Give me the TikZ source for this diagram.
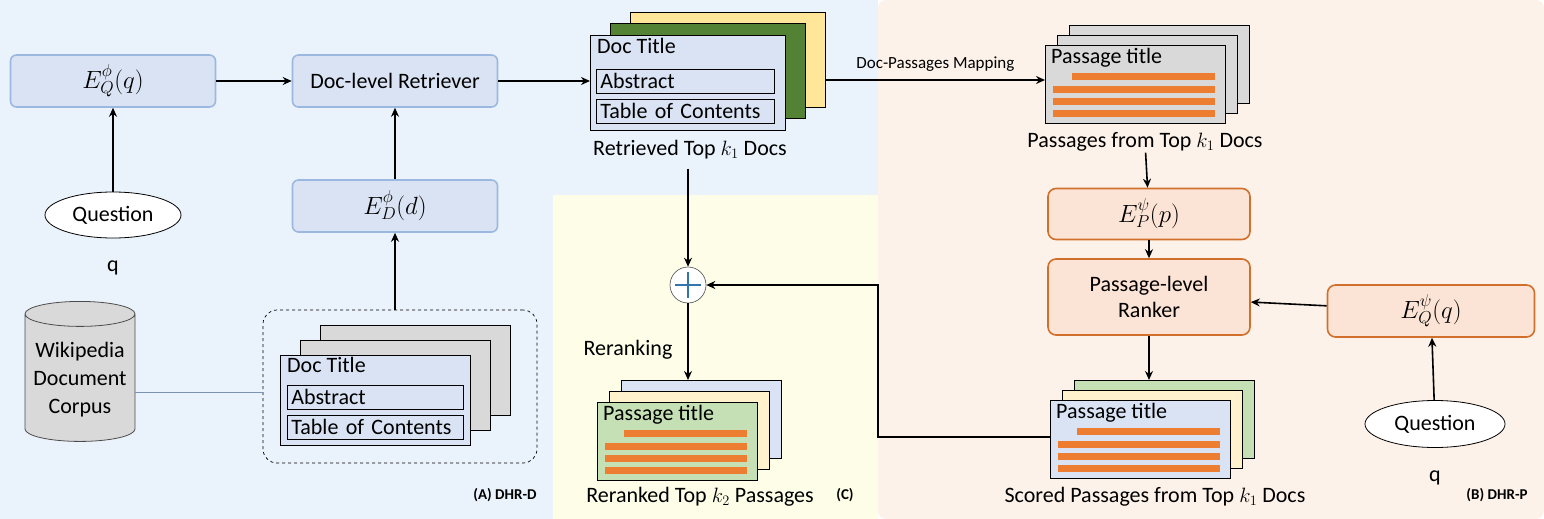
\documentclass[tikz,border=0pt]{standalone}
\usepackage{fontspec}
\setmainfont{Carlito}
\usetikzlibrary{shapes.geometric,arrows.meta}
\definecolor{bblue}{HTML}{EAF3FC}
\definecolor{byel}{HTML}{FDFDE8}
\definecolor{bora}{HTML}{FDF2EA}
\definecolor{boxb}{HTML}{DAE3F3}
\definecolor{edgeb}{HTML}{9DB8E0}
\definecolor{boxo}{HTML}{FBE3D5}
\definecolor{edgeo}{HTML}{D0702C}
\definecolor{bar}{HTML}{ED7D31}
\definecolor{pgray}{HTML}{D9D9D9}
\definecolor{pgreen}{HTML}{C5E0B4}
\definecolor{pyel}{HTML}{FFF2CC}
\definecolor{pblue}{HTML}{DAE3F3}
\definecolor{dgreen}{HTML}{548235}
\definecolor{lyel}{HTML}{FFE699}
\newcommand\fs{\fontsize{22}{26}\selectfont}
\newcommand\fm{\fontsize{25}{30}\selectfont}
\newcommand\pg[6]{\node[page,fill=#5,minimum width=#3,minimum height=#4,anchor=north west] (#6) at (#1,#2) {};}
\newcommand\bars[4]{% x y w name
  \fill[bar] (#1+27,#2+28) rectangle (#1+#3-10,#2+35);
  \fill[bar] (#1+8,#2+41) rectangle (#1+#3-10,#2+48);
  \fill[bar] (#1+8,#2+53) rectangle (#1+#3-10,#2+60);
  \fill[bar] (#1+8,#2+65) rectangle (#1+#3-10,#2+72);
  \node[anchor=north west,inner sep=0pt,font=\fs] (#4) at (#1+6,#2+3) {Passage title};}
\tikzset{
  page/.style={draw=black,line width=0.8pt,inner sep=0pt},
  bbox/.style={draw=edgeb,fill=boxb,line width=1.6pt,rounded corners=6pt,minimum width=205pt,minimum height=52pt,font=\fs},
  obox/.style={draw=edgeo,fill=boxo,line width=1.6pt,rounded corners=8pt,minimum width=202pt,minimum height=51pt,font=\fs,align=center},
  lab/.style={font=\fs,inner sep=1pt},
  arr/.style={-{Stealth[length=9pt,width=8pt]},line width=1.6pt},
  ell/.style={ellipse,draw,line width=0.8pt,fill=white,font=\fs},
  inb/.style={page,fill=boxb,minimum height=24pt,anchor=north west,font=\fs,align=left}
}
\begin{document}
\begin{tikzpicture}[x=1pt,y=-1pt]
\useasboundingbox (0,0) rectangle (1544,519);
\fill[bblue] (0,0) rectangle (878,519);
\fill[byel] (553,195) rectangle (878,519);
\fill[bora,rounded corners=8pt] (878,0) rectangle (1544,519);
% left part
\node[bbox,font=\fm] (eq) at (113,81) {$E_Q^{\phi}(q)$};
\node[bbox] (dlr) at (395,81) {Doc-level Retriever};
\node[bbox,font=\fm] (ed) at (395,206) {$E_D^{\phi}(d)$};
\node[ell,minimum width=136pt,minimum height=46pt] (q1) at (113,215) {Question};
\node[lab] (q1l) at (113,268) {q};
\node[cylinder,shape border rotate=90,draw=black!70,fill=pgray,line width=0.8pt,minimum width=110pt,minimum height=140pt,aspect=0.25,align=center,font=\fontsize{22}{28}\selectfont] (cyl) at (80,380) {Wikipedia\\Document\\Corpus};
\node[draw,dashed,rounded corners=14pt,minimum width=274pt,minimum height=153pt,line width=0.7pt] (dash) at (400,386.5) {};
\pg{320}{325}{190}{90}{pgray}{b2}
\pg{300}{340}{190}{90}{pgray}{b1}
\pg{280}{355}{190}{90}{boxb}{df}
\node[lab,anchor=north west] (dt) at (286,356) {Doc Title};
\node[inb,minimum width=176pt,text width=168pt] (ab) at (287,385) {Abstract};
\node[inb,minimum width=176pt,text width=168pt] (tc) at (287,415) {Table of Contents};
\draw[edgeb!80!black,line width=0.6pt] (cyl.east |- 0,392) -- (dash.west |- 0,392);
\draw[arr] (eq) -- (dlr);
\draw[arr] (q1) -- (eq);
\draw[arr] (ed) -- (dlr);
\draw[arr] (dash.north -| ed) -- (ed);
% retrieved docs
\pg{630}{12}{195}{95}{lyel}{r3}
\pg{610}{23}{195}{95}{dgreen}{r2}
\pg{590}{35}{195}{95}{boxb}{rf}
\node[lab,anchor=north west] (rdt) at (596,37) {Doc Title};
\node[inb,minimum width=178pt,text width=170pt] (rab) at (596,69) {Abstract};
\node[inb,minimum width=178pt,text width=170pt] (rtc) at (596,99) {Table of Contents};
\node[lab] (rl) at (690,150) {Retrieved Top $k_1$ Docs};
\draw[arr] (dlr) -- (rf.west |- dlr);
% passages top
\pg{1069}{25}{180}{78}{pgray}{p3}
\pg{1057}{35}{180}{78}{pgray}{p2}
\pg{1045}{45}{180}{78}{pgray}{pf}
\bars{1045}{45}{180}{pt1}
\node[lab] (pl) at (1145,142) {Passages from Top $k_1$ Docs};
\draw[arr] (r3.east |- 0,80) -- node[above=4pt,font=\fontsize{17}{20}\selectfont]{Doc-Passages Mapping} (pf.west |- 0,80);
% right
\node[obox,font=\fm] (ep) at (1149,214) {$E_P^{\psi}(p)$};
\node[obox,minimum height=76pt] (rk) at (1149,297) {Passage-level\\Ranker};
\node[obox,minimum width=207pt,minimum height=52pt,font=\fm] (eqp) at (1431,311) {$E_Q^{\psi}(q)$};
\node[ell,minimum width=140pt,minimum height=47pt] (q2) at (1435,424) {Question};
\node[lab] (q2l) at (1435,478) {q};
\pg{1074}{380}{180}{78}{pgreen}{s3}
\pg{1062}{390}{180}{78}{pyel}{s2}
\pg{1050}{400}{180}{78}{pblue}{sf}
\bars{1050}{400}{180}{pt2}
\node[lab] (sl) at (1155,497) {Scored Passages from Top $k_1$ Docs};
\draw[arr] (pl) -- (ep);
\draw[arr] (ep) -- (rk);
\draw[arr] (eqp) -- (rk);
\draw[arr] (q2) -- (eqp);
\draw[arr] (rk) -- (s3.north -| rk);
% middle
\node[circle,draw=black!70,fill=white,minimum size=36pt,inner sep=0pt,line width=0.6pt] (plus) at (688,285) {};
\draw[line width=2pt,cyan!60!blue!80!black] (plus.center)++(-13,0) -- ++(26,0) (plus.center)++(0,-13) -- ++(0,26);
\pg{621}{380}{160}{78}{pblue}{c3}
\pg{609}{391}{160}{78}{pyel}{c2}
\pg{597}{402}{160}{78}{pgreen}{cf}
\bars{597}{402}{160}{pt3}
\node[lab] (cl) at (700,497) {Reranked Top $k_2$ Passages};
\node[lab] (rr) at (628,350) {Reranking};
\draw[arr] (rl.south -| plus) ++(0,8) -- (plus);
\draw[arr] (plus) -- (c3.north -| plus);
\draw[arr] (sf.west |- 0,437) -- (878,437) -- (878,285) -- (plus);
\node[font=\bfseries\fontsize{15}{18}\selectfont] (la) at (505,495) {(A) DHR-D};
\node[font=\bfseries\fontsize{15}{18}\selectfont] (lc) at (845,495) {(C)};
\node[font=\bfseries\fontsize{15}{18}\selectfont] (lb) at (1497,495) {(B) DHR-P};
\end{tikzpicture}
\end{document}
